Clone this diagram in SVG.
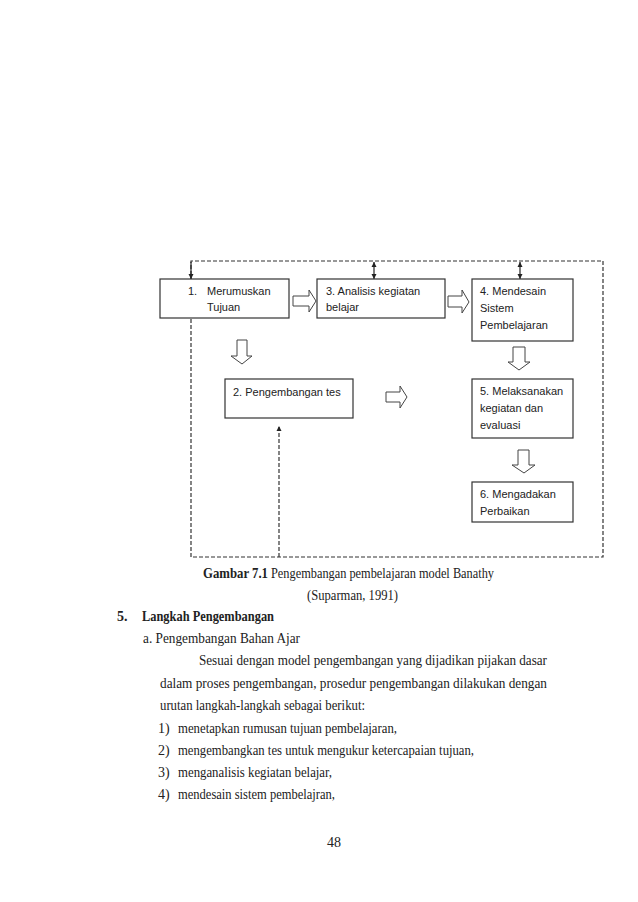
<svg xmlns="http://www.w3.org/2000/svg" width="638" height="902" viewBox="0 0 638 902">
<defs>
<marker id="ah" markerWidth="6" markerHeight="6" refX="5" refY="3" orient="auto-start-reverse" markerUnits="userSpaceOnUse">
<path d="M0,0.5 L5,3 L0,5.5 Z" fill="#222"/>
</marker>
<style>
.box{fill:#fff;stroke:#333;stroke-width:1.2}
.bt{font-family:"Liberation Sans",Arial,sans-serif;font-size:11px;fill:#222}
.blk{fill:#fff;stroke:#444;stroke-width:1}
.dash{fill:none;stroke:#333;stroke-width:1.2;stroke-dasharray:4 2}
.sol{fill:none;stroke:#222;stroke-width:1.2}
.tx{font-family:"Liberation Serif","Times New Roman",serif;font-size:14px;fill:#222}
.b{font-weight:bold}
</style>
</defs>
<rect width="638" height="902" fill="#fff"/>
<g id="connectors">
<path class="dash" d="M191,557 L191,261 L603,261 L603,557 L191,557"/>
<line class="sol" x1="191" y1="262" x2="191" y2="279" marker-end="url(#ah)"/>
<line class="sol" x1="374" y1="262" x2="374" y2="279" marker-start="url(#ah)" marker-end="url(#ah)"/>
<line class="sol" x1="520" y1="262" x2="520" y2="279" marker-start="url(#ah)" marker-end="url(#ah)"/>
<line class="dash" x1="279" y1="557" x2="279" y2="426" marker-end="url(#ah)"/>
<path class="blk" d="M293,296 L309,296 L309,290 L316,301 L309,312 L309,306 L293,306 Z"/>
<path class="blk" d="M448,296 L462,296 L462,290 L469,302 L462,313 L462,307 L448,307 Z"/>
<path class="blk" d="M386,392 L400,392 L400,386 L407,397 L400,408 L400,402 L386,402 Z"/>
<path class="blk" d="M237,340 L247,340 L247,356 L252,356 L242,364 L231,356 L237,356 Z"/>
<path class="blk" d="M513,347 L525,347 L525,362 L530,362 L519,370 L508,362 L513,362 Z"/>
<path class="blk" d="M518,450 L529,450 L529,465 L535,465 L524,473 L512,465 L518,465 Z"/>
</g>
<g id="node1">
<rect class="box" x="160" y="279" width="129" height="39"/>
<text class="bt" x="188" y="295">1.</text>
<text class="bt" x="207" y="295">Merumuskan</text>
<text class="bt" x="207" y="311">Tujuan</text>
</g>
<g id="node2">
<rect class="box" x="225" y="379" width="128" height="39"/>
<text class="bt" x="233" y="396">2. Pengembangan tes</text>
</g>
<g id="node3">
<rect class="box" x="317" y="279" width="128" height="39"/>
<text class="bt" x="326" y="295">3.  Analisis kegiatan</text>
<text class="bt" x="326" y="311">belajar</text>
</g>
<g id="node4">
<rect class="box" x="472" y="279" width="101" height="62"/>
<text class="bt" x="480" y="295">4. Mendesain</text>
<text class="bt" x="480" y="312">Sistem</text>
<text class="bt" x="480" y="329">Pembelajaran</text>
</g>
<g id="node5">
<rect class="box" x="472" y="379" width="101" height="59"/>
<text class="bt" x="480" y="395">5. Melaksanakan</text>
<text class="bt" x="480" y="412">kegiatan dan</text>
<text class="bt" x="480" y="429">evaluasi</text>
</g>
<g id="node6">
<rect class="box" x="472" y="482" width="101" height="40"/>
<text class="bt" x="480" y="498">6. Mengadakan</text>
<text class="bt" x="480" y="515">Perbaikan</text>
</g>
<g id="text">
<text class="tx b" x="203" y="578" textLength="65" lengthAdjust="spacingAndGlyphs">Gambar 7.1</text>
<text class="tx" x="271" y="578" textLength="223" lengthAdjust="spacingAndGlyphs">Pengembangan  pembelajaran  model  Banathy</text>
<text class="tx" x="307" y="600" textLength="91" lengthAdjust="spacingAndGlyphs">(Suparman,  1991)</text>
<text class="tx b" x="117" y="621">5.</text>
<text class="tx b" x="142" y="621" textLength="132" lengthAdjust="spacingAndGlyphs">Langkah Pengembangan</text>
<text class="tx" x="143" y="643" textLength="157" lengthAdjust="spacingAndGlyphs">a.  Pengembangan  Bahan  Ajar</text>
<text class="tx" x="199" y="665" textLength="348" lengthAdjust="spacingAndGlyphs">Sesuai  dengan  model  pengembangan  yang  dijadikan  pijakan  dasar</text>
<text class="tx" x="160" y="688" textLength="387" lengthAdjust="spacingAndGlyphs">dalam  proses  pengembangan,  prosedur  pengembangan  dilakukan  dengan</text>
<text class="tx" x="160" y="710" textLength="205" lengthAdjust="spacingAndGlyphs">urutan  langkah-langkah  sebagai  berikut:</text>
<text class="tx" x="158" y="733">1)</text>
<text class="tx" x="178" y="733" textLength="219" lengthAdjust="spacingAndGlyphs">menetapkan  rumusan  tujuan  pembelajaran,</text>
<text class="tx" x="158" y="755">2)</text>
<text class="tx" x="178" y="755" textLength="296" lengthAdjust="spacingAndGlyphs">mengembangkan  tes untuk  mengukur  ketercapaian  tujuan,</text>
<text class="tx" x="158" y="777">3)</text>
<text class="tx" x="178" y="777" textLength="154" lengthAdjust="spacingAndGlyphs">menganalisis  kegiatan  belajar,</text>
<text class="tx" x="158" y="799">4)</text>
<text class="tx" x="178" y="799" textLength="157" lengthAdjust="spacingAndGlyphs">mendesain  sistem  pembelajran,</text>
<text class="tx" x="334" y="847" text-anchor="middle">48</text>
</g>
</svg>
